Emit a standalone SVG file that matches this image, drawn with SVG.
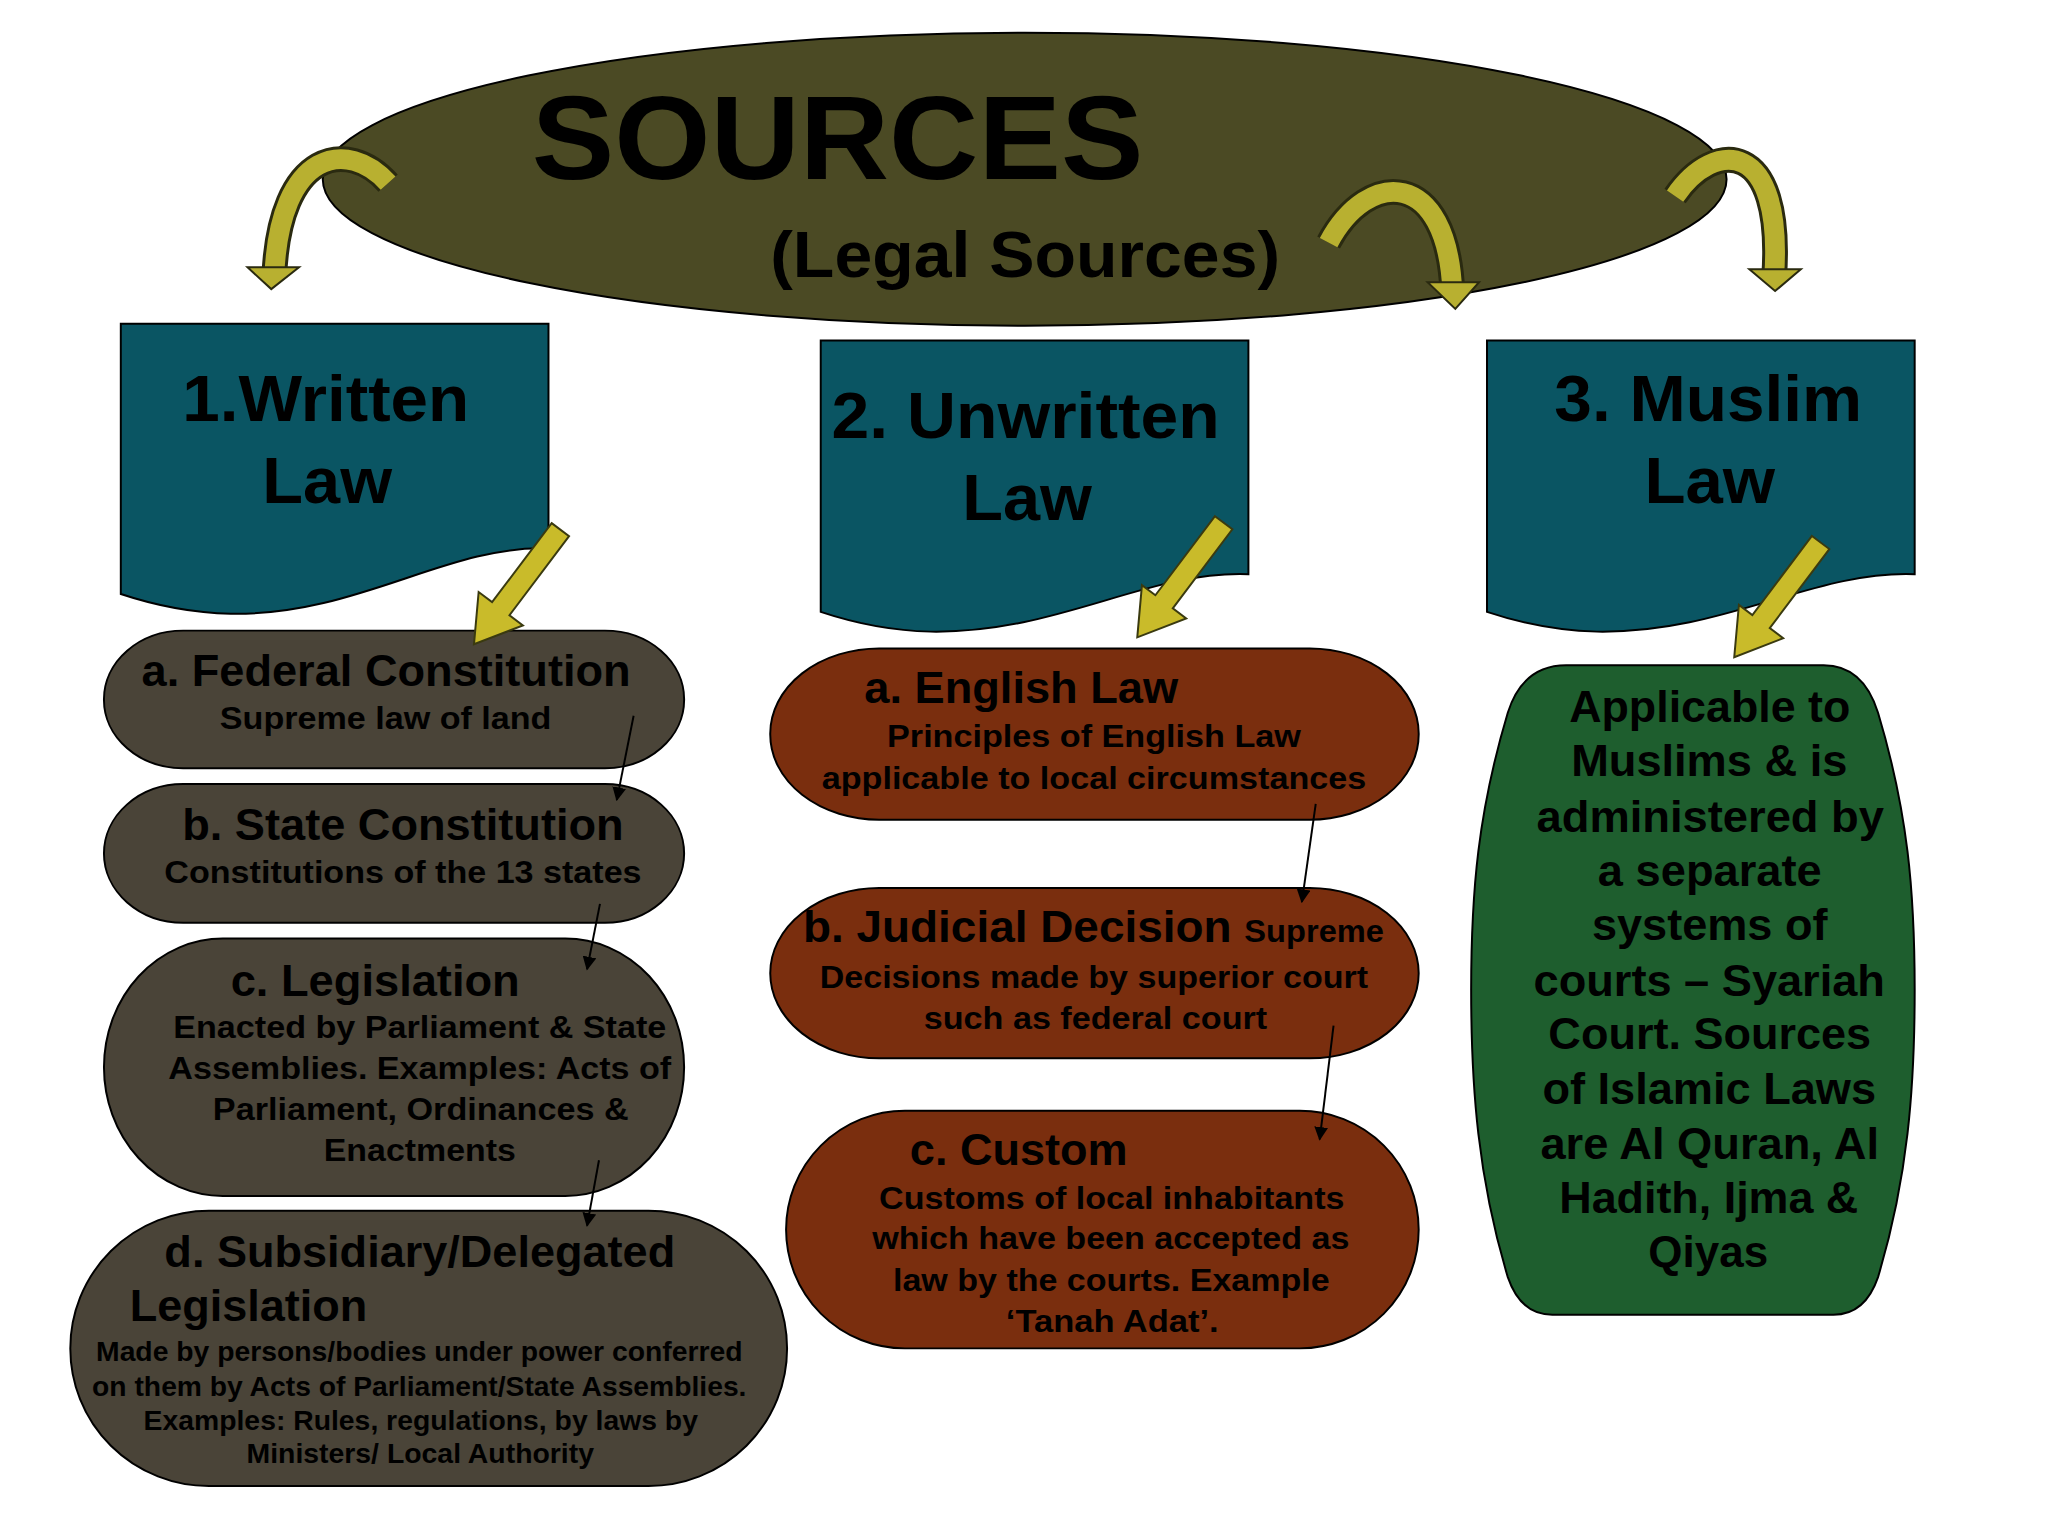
<svg xmlns="http://www.w3.org/2000/svg" width="2048" height="1536" viewBox="0 0 2048 1536">
<style>
text{font-family:"Liberation Sans",Arial,sans-serif;font-weight:bold;fill:#000}
.h{font-size:66px}.t{font-size:45px}.s{font-size:32px}.x{font-size:27px}
.doc{fill:#0a5563;stroke:#000;stroke-width:2}
.gr{fill:#4a4438;stroke:#000;stroke-width:2}
.br{fill:#7a2e0e;stroke:#000;stroke-width:2}
.ya{fill:#c9bb2a;stroke:#3a3a10;stroke-width:2}
.ca{fill:none;stroke:#b8b030;stroke-width:20}
.co{fill:none;stroke:#2a2a10;stroke-width:26}
.ln{stroke:#000;stroke-width:2;fill:none}
</style>
<defs>
<marker id="m" viewBox="0 0 10 10" refX="9" refY="5" markerWidth="7" markerHeight="7" orient="auto"><path d="M0 0L10 5L0 10z" fill="#000"/></marker>
<polygon id="ya" points="-11,0 11,0 11,100 28,100 0,145 -28,100 -11,100" class="ya"/>
</defs>
<rect width="2048" height="1536" fill="#fff"/>
<g transform="translate(2,0) scale(0.99)">
<g id="sources">
<ellipse cx="1033" cy="181" rx="709" ry="148" fill="#4b4a24" stroke="#000" stroke-width="2"/>
<text x="535" y="181" font-size="120" textLength="618" lengthAdjust="spacingAndGlyphs">SOURCES</text>
<text x="776" y="280" class="h" textLength="515" lengthAdjust="spacingAndGlyphs">(Legal Sources)</text>
</g>
<g id="curved-arrows">
<path class="co" d="M390 185 C350 140 280 150 275 280"/>
<path class="ca" d="M390 185 C350 140 280 150 275 280"/>
<polygon points="248,270 300,270 272,292" fill="#b8b030" stroke="#2a2a10" stroke-width="2"/>
<path class="co" d="M1340 245 C1380 170 1460 170 1465 295"/>
<path class="ca" d="M1340 245 C1380 170 1460 170 1465 295"/>
<polygon points="1440,285 1492,285 1468,312" fill="#b8b030" stroke="#2a2a10" stroke-width="2"/>
<path class="co" d="M1690 198 C1730 140 1800 140 1790 280"/>
<path class="ca" d="M1690 198 C1730 140 1800 140 1790 280"/>
<polygon points="1765,272 1817,272 1791,294" fill="#b8b030" stroke="#2a2a10" stroke-width="2"/>
</g>
<g id="written">
<path class="doc" d="M120 327H552V554C450 550 360 622 231 620C190 619 150 610 120 600Z"/>
<text x="182" y="425" class="h" textLength="290" lengthAdjust="spacingAndGlyphs">1.Written</text>
<text x="263" y="508" class="h" textLength="131" lengthAdjust="spacingAndGlyphs">Law</text>
</g>
<g id="unwritten">
<path class="doc" d="M827 344H1259V580C1157 576 1067 640 938 638C897 637 857 628 827 618Z"/>
<text x="838" y="442" class="h" textLength="392" lengthAdjust="spacingAndGlyphs">2. Unwritten</text>
<text x="970" y="525" class="h" textLength="131" lengthAdjust="spacingAndGlyphs">Law</text>
</g>
<g id="muslim">
<path class="doc" d="M1500 344H1932V580C1830 576 1740 640 1611 638C1570 637 1530 628 1500 618Z"/>
<text x="1568" y="425" class="h" textLength="311" lengthAdjust="spacingAndGlyphs">3. Muslim</text>
<text x="1659" y="508" class="h" textLength="132" lengthAdjust="spacingAndGlyphs">Law</text>
</g>
<g id="fed">
<rect class="gr" x="103" y="637" width="586" height="139" rx="80" ry="69"/>
<text x="141" y="693" class="t" textLength="494" lengthAdjust="spacingAndGlyphs">a. Federal Constitution</text>
<text x="220" y="736" class="s" textLength="335" lengthAdjust="spacingAndGlyphs">Supreme law of land</text>
</g>
<g id="state">
<rect class="gr" x="103" y="792" width="586" height="140" rx="80" ry="70"/>
<text x="182" y="849" class="t" textLength="446" lengthAdjust="spacingAndGlyphs">b. State Constitution</text>
<text x="164" y="892" class="s" textLength="482" lengthAdjust="spacingAndGlyphs">Constitutions of the 13 states</text>
</g>
<g id="legis">
<rect class="gr" x="103" y="948" width="586" height="260" rx="120" ry="130"/>
<text x="231" y="1006" class="t" textLength="292" lengthAdjust="spacingAndGlyphs">c. Legislation</text>
<text x="173" y="1049" class="s" textLength="498" lengthAdjust="spacingAndGlyphs">Enacted by Parliament &amp; State</text>
<text x="168" y="1090" class="s" textLength="508" lengthAdjust="spacingAndGlyphs">Assemblies. Examples: Acts of</text>
<text x="213" y="1131" class="s" textLength="420" lengthAdjust="spacingAndGlyphs">Parliament, Ordinances &amp;</text>
<text x="325" y="1173" class="s" textLength="194" lengthAdjust="spacingAndGlyphs">Enactments</text>
</g>
<g id="subsid">
<rect class="gr" x="69" y="1223" width="724" height="278" rx="140" ry="139"/>
<text x="164" y="1280" class="t" textLength="516" lengthAdjust="spacingAndGlyphs">d. Subsidiary/Delegated</text>
<text x="129" y="1334" class="t" textLength="240" lengthAdjust="spacingAndGlyphs">Legislation</text>
<text x="95" y="1375" class="x" textLength="653" lengthAdjust="spacingAndGlyphs">Made by persons/bodies under power conferred</text>
<text x="91" y="1410" class="x" textLength="661" lengthAdjust="spacingAndGlyphs">on them by Acts of Parliament/State Assemblies.</text>
<text x="143" y="1444" class="x" textLength="560" lengthAdjust="spacingAndGlyphs">Examples: Rules, regulations, by laws by</text>
<text x="247" y="1478" class="x" textLength="351" lengthAdjust="spacingAndGlyphs">Ministers/ Local Authority</text>
</g>
<g id="english">
<rect class="br" x="776" y="655" width="655" height="173" rx="110" ry="86"/>
<text x="871" y="710" class="t" textLength="317" lengthAdjust="spacingAndGlyphs">a. English Law</text>
<text x="894" y="755" class="s" textLength="418" lengthAdjust="spacingAndGlyphs">Principles of English Law</text>
<text x="828" y="797" class="s" textLength="550" lengthAdjust="spacingAndGlyphs">applicable to local circumstances</text>
</g>
<g id="judicial">
<rect class="br" x="776" y="897" width="655" height="172" rx="110" ry="86"/>
<text x="809" y="952" class="t" textLength="587" lengthAdjust="spacingAndGlyphs">b. Judicial Decision <tspan font-size="32">Supreme</tspan></text>
<text x="826" y="998" class="s" textLength="554" lengthAdjust="spacingAndGlyphs">Decisions made by superior court</text>
<text x="931" y="1039" class="s" textLength="347" lengthAdjust="spacingAndGlyphs">such as federal court</text>
</g>
<g id="custom">
<rect class="br" x="792" y="1122" width="639" height="240" rx="120" ry="120"/>
<text x="917" y="1177" class="t" textLength="220" lengthAdjust="spacingAndGlyphs">c. Custom</text>
<text x="886" y="1221" class="s" textLength="470" lengthAdjust="spacingAndGlyphs">Customs of local inhabitants</text>
<text x="879" y="1262" class="s" textLength="482" lengthAdjust="spacingAndGlyphs">which have been accepted as</text>
<text x="900" y="1304" class="s" textLength="441" lengthAdjust="spacingAndGlyphs">law by the courts. Example</text>
<text x="1014" y="1345" class="s" textLength="215" lengthAdjust="spacingAndGlyphs">‘Tanah Adat’.</text>
</g>
<g id="muslim-detail">
<path d="M1580 672H1840Q1880 672 1895 720C1925 820 1932 900 1932 1000C1932 1100 1925 1190 1895 1290Q1882 1328 1850 1328H1566Q1534 1328 1521 1290C1491 1190 1484 1100 1484 1000C1484 900 1491 820 1521 720Q1536 672 1580 672Z" fill="#1e5e2e" stroke="#000" stroke-width="2"/>
<text x="1583" y="729" class="t" textLength="284" lengthAdjust="spacingAndGlyphs">Applicable to</text>
<text x="1585" y="784" class="t" textLength="279" lengthAdjust="spacingAndGlyphs">Muslims &amp; is</text>
<text x="1550" y="840" class="t" textLength="351" lengthAdjust="spacingAndGlyphs">administered by</text>
<text x="1612" y="895" class="t" textLength="226" lengthAdjust="spacingAndGlyphs">a separate</text>
<text x="1606" y="950" class="t" textLength="238" lengthAdjust="spacingAndGlyphs">systems of</text>
<text x="1547" y="1006" class="t" textLength="355" lengthAdjust="spacingAndGlyphs">courts – Syariah</text>
<text x="1562" y="1060" class="t" textLength="326" lengthAdjust="spacingAndGlyphs">Court. Sources</text>
<text x="1556" y="1115" class="t" textLength="337" lengthAdjust="spacingAndGlyphs">of Islamic Laws</text>
<text x="1554" y="1171" class="t" textLength="342" lengthAdjust="spacingAndGlyphs">are Al Quran, Al</text>
<text x="1573" y="1225" class="t" textLength="302" lengthAdjust="spacingAndGlyphs">Hadith, Ijma &amp;</text>
<text x="1663" y="1280" class="t" textLength="121" lengthAdjust="spacingAndGlyphs">Qiyas</text>
</g>
<g id="connectors">
<use href="#ya" transform="translate(564,535) rotate(37)"/>
<use href="#ya" transform="translate(1234,528) rotate(37)"/>
<use href="#ya" transform="translate(1837,548) rotate(37)"/>
<line class="ln" x1="638" y1="723" x2="621" y2="808" marker-end="url(#m)"/>
<line class="ln" x1="604" y1="913" x2="591" y2="979" marker-end="url(#m)"/>
<line class="ln" x1="603" y1="1172" x2="591" y2="1238" marker-end="url(#m)"/>
<line class="ln" x1="1327" y1="812" x2="1313" y2="911" marker-end="url(#m)"/>
<line class="ln" x1="1345" y1="1036" x2="1331" y2="1151" marker-end="url(#m)"/>
</g>
</g>
</svg>
